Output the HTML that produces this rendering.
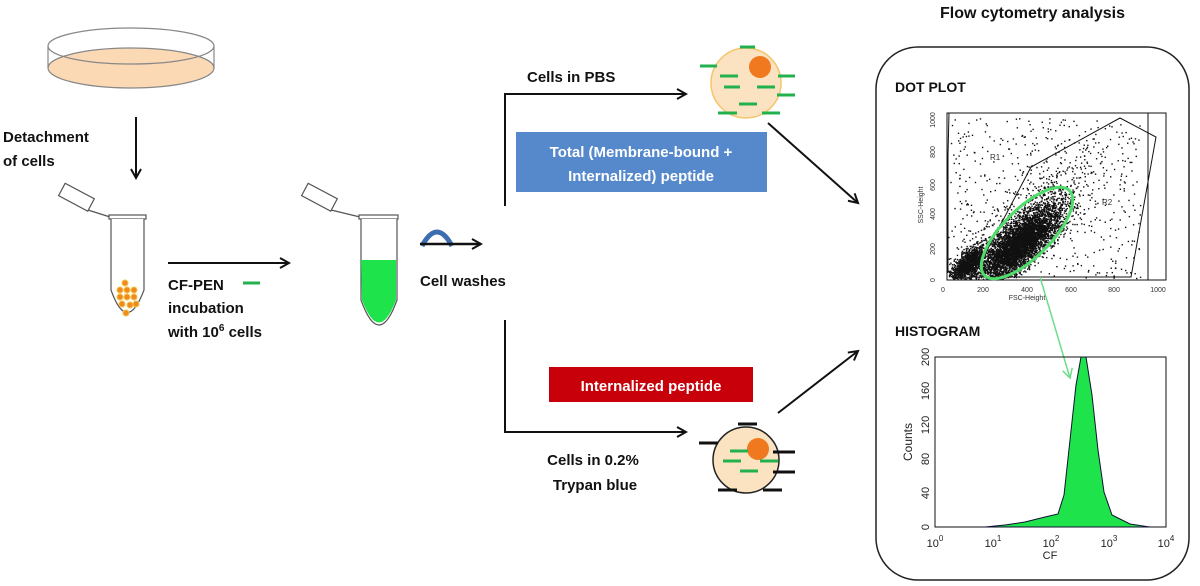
<!DOCTYPE html>
<html><head><meta charset="utf-8"><style>
html,body{margin:0;padding:0;background:#fff;}
svg{display:block;}
text{font-family:"Liberation Sans",sans-serif;}
.b{font-weight:bold;font-size:15px;fill:#111;}
</style></head><body>
<svg id="s" width="1200" height="586" viewBox="0 0 1200 586" xmlns="http://www.w3.org/2000/svg">
<defs>
<marker id="ah" markerWidth="12" markerHeight="12" refX="10" refY="6" orient="auto" markerUnits="userSpaceOnUse">
<path d="M1,1 L10,6 L1,11" fill="none" stroke="#111" stroke-width="2"/></marker>
<marker id="gh" markerWidth="12" markerHeight="12" refX="10" refY="6" orient="auto" markerUnits="userSpaceOnUse">
<path d="M1,1 L10,6 L1,11" fill="none" stroke="#6fdc8c" stroke-width="1.5"/></marker>
</defs>
<ellipse cx="131" cy="68" rx="83" ry="20" fill="#fbd9b4" stroke="#888" stroke-width="1.2"/>
<line x1="48" y1="46" x2="48" y2="68" stroke="#888" stroke-width="1.2"/>
<line x1="214" y1="46" x2="214" y2="68" stroke="#888" stroke-width="1.2"/>
<ellipse cx="131" cy="46" rx="83" ry="18" fill="none" stroke="#888" stroke-width="1.2"/>
<line x1="136" y1="117" x2="136" y2="178" stroke="#111" stroke-width="2" marker-end="url(#ah)"/>
<text class="b" x="3" y="142">Detachment</text>
<text class="b" x="3" y="166">of cells</text>
<g stroke="#555" stroke-width="1.2" fill="#fff">
<rect x="60" y="190" width="33" height="14" transform="rotate(28 76 197)"/>
<path d="M88,210 L110,217"/>
<rect x="109" y="215" width="37" height="4"/>
<path d="M111,219 L111,290 Q127,335 144,290 L144,219"/>
</g>
<g fill="#f08a1e" stroke="#f4c24a" stroke-width="1">
<circle cx="125" cy="283" r="3"/><circle cx="120" cy="290" r="3"/><circle cx="127" cy="290" r="3"/><circle cx="134" cy="290" r="3"/>
<circle cx="120" cy="297" r="3"/><circle cx="127" cy="297" r="3"/><circle cx="134" cy="297" r="3"/><circle cx="122" cy="304" r="3"/><circle cx="130" cy="305" r="3"/><circle cx="126" cy="313" r="3"/><circle cx="136" cy="304" r="3"/>
</g>
<line x1="168" y1="263" x2="289" y2="263" stroke="#111" stroke-width="2" marker-end="url(#ah)"/>
<text class="b" x="168" y="290">CF-PEN</text>
<line x1="243" y1="283" x2="260" y2="283" stroke="#22b14c" stroke-width="3"/>
<text class="b" x="168" y="313">incubation</text>
<text class="b" x="168" y="337">with 10<tspan dy="-6" font-size="10">6</tspan><tspan dy="6"> cells</tspan></text>
<g stroke="#555" stroke-width="1.2" fill="#fff">
<rect x="303" y="190" width="33" height="14" transform="rotate(28 319 197)"/>
<path d="M331,210 L360,217"/>
<rect x="359" y="215" width="39" height="4"/>
<path d="M361,219 L361,300 Q379,350 397,300 L397,219"/>
</g>
<path d="M361,260 L396,260 L396,300 Q379,345 362,300 Z" fill="#1ee34b"/>
<path d="M422,246 Q437,218 452,246" fill="none" stroke="#3d6fb0" stroke-width="5"/>
<line x1="420" y1="244" x2="481" y2="244" stroke="#111" stroke-width="2.5" marker-end="url(#ah)"/>
<text class="b" x="420" y="286">Cell washes</text>
<path d="M505,206 L505,94 L686,94" fill="none" stroke="#111" stroke-width="2" marker-end="url(#ah)"/>
<path d="M505,320 L505,432 L686,432" fill="none" stroke="#111" stroke-width="2" marker-end="url(#ah)"/>
<text class="b" x="527" y="82">Cells in PBS</text>
<rect x="516" y="132" width="251" height="60" fill="#5689cc"/>
<text class="b" x="641" y="157" text-anchor="middle" style="fill:#fff">Total (Membrane-bound +</text>
<text class="b" x="641" y="181" text-anchor="middle" style="fill:#fff">Internalized) peptide</text>
<rect x="549" y="367" width="204" height="35" fill="#c8000a"/>
<text class="b" x="651" y="391" text-anchor="middle" style="fill:#fff">Internalized peptide</text>
<text class="b" x="593" y="465" text-anchor="middle">Cells in 0.2%</text>
<text class="b" x="595" y="490" text-anchor="middle">Trypan blue</text>
<circle cx="746" cy="83" r="35" fill="#fbe2c0" stroke="#f4c56a" stroke-width="1.5"/>
<circle cx="760" cy="67" r="11" fill="#f0781e"/>
<g stroke="#22b14c" stroke-width="3">
<line x1="740" y1="47" x2="755" y2="47"/><line x1="700" y1="66" x2="717" y2="66"/><line x1="720" y1="76" x2="738" y2="76"/>
<line x1="778" y1="76" x2="795" y2="76"/><line x1="724" y1="87" x2="740" y2="87"/><line x1="757" y1="87" x2="775" y2="87"/>
<line x1="777" y1="95" x2="795" y2="95"/><line x1="739" y1="104" x2="757" y2="104"/><line x1="718" y1="113" x2="737" y2="113"/><line x1="762" y1="113" x2="780" y2="113"/>
</g>
<circle cx="746" cy="460" r="33" fill="#fbe2c0" stroke="#222" stroke-width="1.5"/>
<circle cx="758" cy="449" r="11" fill="#f0781e"/>
<g stroke="#22b14c" stroke-width="3">
<line x1="730" y1="451" x2="748" y2="451"/><line x1="723" y1="461" x2="741" y2="461"/><line x1="760" y1="461" x2="778" y2="461"/><line x1="740" y1="471" x2="758" y2="471"/>
</g>
<g stroke="#111" stroke-width="3">
<line x1="738" y1="424" x2="757" y2="424"/><line x1="699" y1="443" x2="718" y2="443"/><line x1="773" y1="452" x2="795" y2="452"/>
<line x1="773" y1="472" x2="795" y2="472"/><line x1="718" y1="490" x2="737" y2="490"/><line x1="763" y1="490" x2="782" y2="490"/>
</g>
<line x1="768" y1="123" x2="858" y2="203" stroke="#111" stroke-width="2" marker-end="url(#ah)"/>
<line x1="778" y1="413" x2="858" y2="351" stroke="#111" stroke-width="2" marker-end="url(#ah)"/>
<text x="940" y="18" font-size="16" font-weight="bold" fill="#111">Flow cytometry analysis</text>
<rect x="876" y="47" width="313" height="533" rx="42" fill="none" stroke="#222" stroke-width="1.5"/>
<text x="895" y="92" font-size="14" font-weight="bold" fill="#111">DOT PLOT</text>
<g id="dot">
<rect x="947" y="113" width="219" height="167" fill="none" stroke="#111" stroke-width="1"/>
<polyline points="948,273 948,155 949,113" fill="none" stroke="#111"/>
<polyline points="1148,280 1148,113" fill="none" stroke="#111" stroke-width="1"/>
<polyline points="973,277 1031,167 1120,118 1156,137 1131,277 973,277" fill="none" stroke="#111" stroke-width="1"/>
<text x="990" y="160" font-size="8" fill="#333">R1</text>
<text x="1102" y="205" font-size="8" fill="#333">R2</text>
<g font-size="7" fill="#333" text-anchor="middle">
<text x="943" y="292">0</text><text x="983" y="292">200</text><text x="1027" y="292">400</text><text x="1071" y="292">600</text><text x="1114" y="292">800</text><text x="1158" y="292">1000</text>
<text x="1027" y="300">FSC-Height</text>
</g>
<g font-size="7" fill="#333" text-anchor="middle">
<text transform="translate(935,280) rotate(-90)">0</text><text transform="translate(935,249) rotate(-90)">200</text><text transform="translate(935,214) rotate(-90)">400</text><text transform="translate(935,185) rotate(-90)">600</text><text transform="translate(935,152) rotate(-90)">800</text><text transform="translate(935,120) rotate(-90)">1000</text>
<text transform="translate(923,205) rotate(-90)">SSC-Height</text>
</g>
<g id="dots"></g>
<ellipse cx="1027" cy="233" rx="60" ry="24" transform="rotate(-45 1027 233)" fill="none" stroke="#4fdc6a" stroke-width="3"/>
</g>
<line x1="1040" y1="277" x2="1070" y2="378" stroke="#6fdc8c" stroke-width="1.5" marker-end="url(#gh)"/>
<text x="895" y="336" font-size="14" font-weight="bold" fill="#111">HISTOGRAM</text>
<rect x="935" y="357" width="231" height="170" fill="none" stroke="#111" stroke-width="1"/>
<path d="M985,527 L1005,525 L1025,522 L1045,517 L1058,514 L1064,495 L1070,440 L1076,385 L1081,357 L1086,357 L1092,395 L1098,450 L1104,492 L1112,515 L1130,524 L1150,527 Z" fill="#1ee34b" stroke="#113" stroke-width="1"/>
<g font-size="11" fill="#222" text-anchor="middle">
<text transform="translate(929,527) rotate(-90)">0</text><text transform="translate(929,493) rotate(-90)">40</text><text transform="translate(929,459) rotate(-90)">80</text><text transform="translate(929,425) rotate(-90)">120</text><text transform="translate(929,391) rotate(-90)">160</text><text transform="translate(929,357) rotate(-90)">200</text>
<text transform="translate(912,442) rotate(-90)" font-size="12">Counts</text>
<text x="935" y="547">10<tspan dy="-6" font-size="8">0</tspan></text><text x="993" y="547">10<tspan dy="-6" font-size="8">1</tspan></text><text x="1051" y="547">10<tspan dy="-6" font-size="8">2</tspan></text><text x="1109" y="547">10<tspan dy="-6" font-size="8">3</tspan></text><text x="1166" y="547">10<tspan dy="-6" font-size="8">4</tspan></text>
<text x="1050" y="559">CF</text>
</g>
</svg>
<script>
(function(){
var g=document.getElementById('dots'),ns='http://www.w3.org/2000/svg',s=7;
function r(){s=(s*9301+49297)%233280;return s/233280;}
function n(){return (r()+r()+r()-1.5)/0.5;}
function dot(x,y){if(x<948||x>1165||y<114||y>279)return;var c=document.createElementNS(ns,'rect');c.setAttribute('x',x);c.setAttribute('y',y);c.setAttribute('width',1.4);c.setAttribute('height',1.4);c.setAttribute('fill','#111');g.appendChild(c);}
var i,t,u;
for(i=0;i<4200;i++){t=n();u=n();dot(1020+t*20+u*7,243-t*19+u*7);}
for(i=0;i<1100;i++){t=n();u=n();dot(966+t*8+u*3,265-t*8+u*4);}
for(i=0;i<500;i++){dot(950+r()*190,118+r()*160);}
for(i=0;i<500;i++){t=n();dot(1030+t*35+n()*15,210-t*30+n()*15);}
})();
</script>
</body></html>
